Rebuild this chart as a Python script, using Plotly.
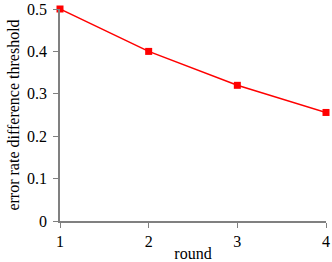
import plotly.graph_objects as go

rounds = [1, 2, 3, 4]
thresholds = [0.5, 0.4, 0.32, 0.256]
y_ticks = [0, 0.1, 0.2, 0.3, 0.4, 0.5]
y_tick_labels = ["0", "0.1", "0.2", "0.3", "0.4", "0.5"]

fig = go.Figure()
fig.add_trace(go.Scatter(
    x=rounds, y=thresholds, mode="lines+markers",
    line=dict(color="#ff0000", width=1.5),
    marker=dict(symbol="square", size=7, color="#ff0000"),
    cliponaxis=False, showlegend=False,
))
font = dict(family="Liberation Serif", size=16, color="black")
fig.update_layout(
    width=332, height=262,
    margin=dict(l=60, r=6, t=9, b=41),
    plot_bgcolor="white", paper_bgcolor="white",
    font=font,
    xaxis=dict(
        range=[1, 4], tickvals=rounds, ticktext=[str(r) for r in rounds],
        showgrid=False, zeroline=False, showline=True, linecolor="#808080", linewidth=1.5,
        ticks="outside", ticklen=5, tickcolor="#808080",
        tickfont=dict(family="Liberation Serif", size=16, color="black"),
        automargin=False,
        title=dict(text="round", standoff=0, font=font),
    ),
    yaxis=dict(
        range=[0, 0.5], tickvals=y_ticks, ticktext=y_tick_labels,
        showgrid=False, zeroline=False, showline=True, linecolor="#808080", linewidth=1.5,
        ticks="outside", ticklen=5, tickcolor="#808080",
        tickfont=dict(family="Liberation Serif", size=16, color="black"),
        ticklabelstandoff=3,
        automargin=False,
        title=dict(text="error rate difference threshold", standoff=3, font=font),
    ),
)
fig.write_html(
    "out.html",
    config={"displayModeBar": False},
    post_script="document.body.style.margin='0';document.body.style.overflow='hidden';",
)
